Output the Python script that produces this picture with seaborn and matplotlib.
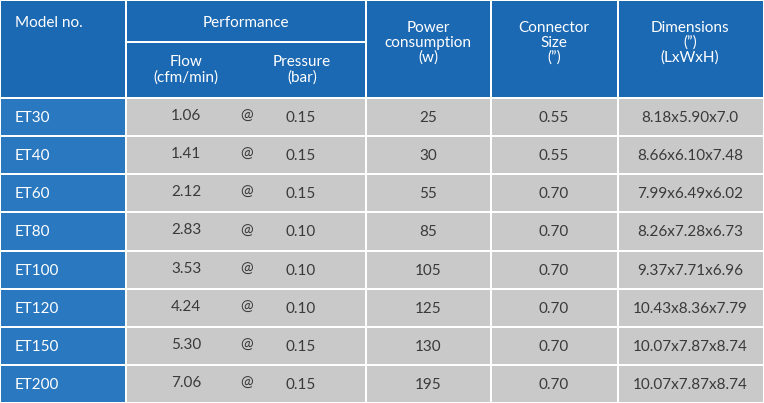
import matplotlib
matplotlib.use("Agg")
import matplotlib.pyplot as plt
from matplotlib.patches import Rectangle
import seaborn as sns

models = ["ET30", "ET40", "ET60", "ET80", "ET100", "ET120", "ET150", "ET200"]
flow = ["1.06", "1.41", "2.12", "2.83", "3.53", "4.24", "5.30", "7.06"]
pressure = ["0.15", "0.15", "0.15", "0.10", "0.10", "0.10", "0.15", "0.15"]
power = ["25", "30", "55", "85", "105", "125", "130", "195"]
connector = ["0.55", "0.55", "0.70", "0.70", "0.70", "0.70", "0.70", "0.70"]
dims = ["8.18x5.90x7.0", "8.66x6.10x7.48", "7.99x6.49x6.02", "8.26x7.28x6.73",
        "9.37x7.71x6.96", "10.43x8.36x7.79", "10.07x7.87x8.74", "10.07x7.87x8.74"]

sns.set_theme(style="white")
plt.rcParams['font.family'] = ['Lato', 'DejaVu Sans']

W, H = 764, 403
fig = plt.figure(figsize=(7.64, 4.03), dpi=100)
ax = fig.add_axes([0, 0, 1, 1])
ax.set_xlim(0, W); ax.set_ylim(H, 0); ax.axis("off")

HDR = "#1c69b3"; MOD = "#2a78c0"; GRAY = "#c9c9c9"; TXT = "#3a3a3a"
cols = [0, 126, 366, 491, 618, 764]
row0 = 98
rh = (H - row0) / 8.0

def rect(x0, y0, x1, y1, c):
    ax.add_patch(Rectangle((x0 + 1, y0 + 1), x1 - x0 - 2, y1 - y0 - 2, color=c, lw=0))

# header cells
rect(0, 0, 126, row0, HDR)
rect(126, 0, 366, 42, HDR)
rect(126, 42, 366, row0, HDR)
for i in range(2, 5):
    rect(cols[i], 0, cols[i + 1], row0, HDR)

fs = 11
wc = "white"
ax.text(15, 23, "Model no.", color=wc, fontsize=fs, va="center", ha="left")
ax.text(246, 23, "Performance", color=wc, fontsize=fs, va="center", ha="center")
ax.text(186, 70, "Flow\n(cfm/min)", color=wc, fontsize=fs, va="center", ha="center", linespacing=1.1)
ax.text(302, 70, "Pressure\n(bar)", color=wc, fontsize=fs, va="center", ha="center", linespacing=1.1)
ax.text(428, 43, "Power\nconsumption\n(w)", color=wc, fontsize=fs, va="center", ha="center", linespacing=1.05)
ax.text(554, 43, "Connector\nSize\n(\u201d)", color=wc, fontsize=fs, va="center", ha="center", linespacing=1.05)
ax.text(690, 43, "Dimensions\n(\u201d)\n(LxWxH)", color=wc, fontsize=fs, va="center", ha="center", linespacing=1.05)

for r in range(8):
    y0 = row0 + r * rh
    y1 = y0 + rh
    yc = (y0 + y1) / 2 + 1
    rect(0, y0, 126, y1, MOD)
    for i in range(1, 5):
        rect(cols[i], y0, cols[i + 1], y1, GRAY)
    ax.text(15, yc, models[r], color=wc, fontsize=fs, va="center", ha="left")
    ax.text(186, yc - 2, flow[r], color=TXT, fontsize=fs, va="center", ha="center")
    ax.text(247, yc - 2, "@", color=TXT, fontsize=fs, va="center", ha="center")
    ax.text(301, yc, pressure[r], color=TXT, fontsize=fs, va="center", ha="center")
    ax.text(428, yc, power[r], color=TXT, fontsize=fs, va="center", ha="center")
    ax.text(554, yc, connector[r], color=TXT, fontsize=fs, va="center", ha="center")
    ax.text(690, yc, dims[r], color=TXT, fontsize=fs, va="center", ha="center")

fig.savefig("out.png", dpi=100, facecolor="white")
